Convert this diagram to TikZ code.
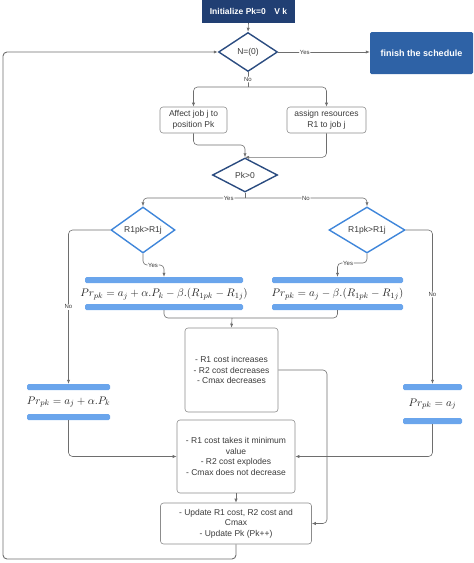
\documentclass[tikz,border=0pt]{standalone}
\usepackage{amsmath,amssymb}
\usepackage{xcolor}
\usepackage{fontspec}
\setmainfont{Liberation Sans}
\usetikzlibrary{shapes,shapes.geometric,arrows,positioning,calc,arrows.meta}

\definecolor{navyfill}{HTML}{213F73}
\definecolor{finishblue}{HTML}{2E62A6}
\definecolor{navyline}{HTML}{2B4C80}
\definecolor{lightline}{HTML}{3F86DA}
\definecolor{barblue}{HTML}{6AA5EC}
\definecolor{linegray}{HTML}{6E6E6E}
\definecolor{boxgray}{HTML}{8C8C8C}
\definecolor{textgray}{HTML}{3A3A3A}

\tikzset{
    flow/.style={draw=linegray, line width=0.6pt, rounded corners=4pt},
    arr/.style={flow, -{Latex[length=4pt, width=3.2pt]}},
    notebox/.style={draw=boxgray, line width=0.6pt, rounded corners=3pt, align=center, text=textgray, font=\fontsize{8.5}{10.5}\selectfont, inner sep=2pt},
    titlebox/.style={fill=navyfill, text=white, font=\bfseries\fontsize{8.5}{10}\selectfont, inner sep=2pt},
    endbox/.style={fill=finishblue, text=white, font=\bfseries\fontsize{9}{11}\selectfont, rounded corners=1.5pt},
    darkdiamond/.style={diamond, draw=navyline, line width=1.4pt, text=textgray, font=\fontsize{8.5}{10}\selectfont, inner sep=0pt},
    lightdiamond/.style={diamond, draw=lightline, line width=1.4pt, text=textgray, font=\fontsize{8.5}{10}\selectfont, inner sep=0pt},
    bar/.style={fill=barblue, rounded corners=1.5pt, minimum height=6pt, inner sep=0pt},
    formula/.style={text=black!85, font=\fontsize{10.75}{12}\selectfont, inner sep=0pt},
    lbl/.style={fill=white, text=textgray, font=\fontsize{6}{7}\selectfont, inner sep=0.8pt}
}

\begin{document}
\begin{tikzpicture}[x=1pt, y=-1pt]
    \useasboundingbox (0,0) rectangle (474,563);

    \node[titlebox, minimum width=93pt, minimum height=23pt] (init) at (248.5,11.5) {Initialize Pk=0\quad V k};
    \node[darkdiamond, minimum width=59pt, minimum height=39pt] (N) at (248,52) {N=(0)};
    \node[endbox, minimum width=103pt, minimum height=42pt] (finish) at (421.5,53) {finish the schedule};

    \node[notebox, minimum width=67pt, minimum height=26pt] (affect) at (193.5,120) {Affect job j to\\position Pk};
    \node[notebox, minimum width=79pt, minimum height=26pt] (assign) at (326.5,120) {assign resources\\R1 to job j};

    \node[darkdiamond, minimum width=65pt, minimum height=34pt] (Pk) at (245,175) {Pk>0};
    \node[lightdiamond, minimum width=64pt, minimum height=46pt] (Rl) at (143,230) {R1pk>R1j};
    \node[lightdiamond, minimum width=76pt, minimum height=46pt] (Rr) at (367,230) {R1pk>R1j};

    \node[bar, minimum width=158pt] (f1top) at (164,280) {};
    \node[formula] (f1) at (164,294) {$Pr_{pk} = a_j + \alpha.P_k - \beta.(R_{1pk} - R_{1j})$};
    \node[bar, minimum width=158pt] (f1bot) at (164,307) {};

    \node[bar, minimum width=131pt] (f2top) at (337.5,280) {};
    \node[formula] (f2) at (337.5,294) {$Pr_{pk} = a_j - \beta.(R_{1pk} - R_{1j})$};
    \node[bar, minimum width=131pt] (f2bot) at (337.5,307) {};

    \node[bar, minimum width=83pt] (f3top) at (68.5,387) {};
    \node[formula, font=\fontsize{11}{12}\selectfont] (f3) at (68.5,402) {$Pr_{pk} = a_j + \alpha.P_k$};
    \node[bar, minimum width=83pt] (f3bot) at (68.5,417) {};

    \node[bar, minimum width=59pt] (f4top) at (432.5,387) {};
    \node[formula, font=\fontsize{11}{12}\selectfont] (f4) at (432.5,404) {$Pr_{pk} = a_j$};
    \node[bar, minimum width=59pt] (f4bot) at (432.5,421) {};

    \node[notebox, minimum width=93pt, minimum height=84pt] (cost1) at (231.5,370) {- R1 cost increases\\- R2 cost decreases\\- Cmax decreases};
    \node[notebox, minimum width=118pt, minimum height=73pt] (cost2) at (236,456.5) {- R1 cost takes it minimum\\value\\- R2 cost explodes\\- Cmax does not decrease};
    \node[notebox, minimum width=151pt, minimum height=41pt] (update) at (236,523.5) {- Update R1 cost, R2 cost and\\Cmax\\- Update Pk (Pk++)};

    \coordinate (split) at (248,87);
    \coordinate (mergeL) at (193.5,145);
    \coordinate (split2) at (245,198);
    \coordinate (ylb) at (143,265);
    \coordinate (yrb) at (367,263);
    \coordinate (join) at (232,318);
    \coordinate (rightrun) at (327,370);
    \coordinate (lowleft) at (3,559);

    \draw[arr] (init.south) -- (N.north);
    \draw[arr] (N.east) -- node[lbl, pos=0.29] {Yes} (finish.west |- N.east);
    \draw[flow] (N.south) -- node[lbl] {No} (split);
    \draw[arr] (split) -| (affect.north);
    \draw[arr] (split) -| (assign.north);
    \draw[arr] (affect.south) -- (mergeL) -| (Pk.north);
    \draw[arr] (assign.south) |- (Pk.north);

    \draw[flow] (Pk.south) -- (split2);
    \draw[arr] (split2) -| node[lbl, pos=0.08] {Yes} (Rl.north);
    \draw[arr] (split2) -| node[lbl, pos=0.25] {No} (Rr.north);

    \draw[arr] (Rl.west) -| node[lbl, pos=0.75] {No} (f3top.north);
    \draw[arr] (Rl.south) -- (ylb) -| node[lbl, pos=0.24] {Yes} (f1top.north);
    \draw[arr] (Rr.south) -- (yrb) -| node[lbl, pos=0.32] {Yes} (f2top.north);
    \draw[arr] (Rr.east) -| node[lbl, pos=0.71] {No} (f4top.north);

    \draw[flow] (f1bot.south) |- (join) -| (f2bot.south);
    \draw[arr] (join) -- (cost1.north);
    \draw[arr] (cost1.east) -- (rightrun) |- (update.east);
    \draw[arr] (f3bot.south) |- (cost2.west);
    \draw[arr] (f4bot.south) |- (cost2.east);
    \draw[arr] (cost2.south) -- (update.north);
    \draw[arr, line width=0.9pt] (update.south) |- (lowleft) |- (N.west);
\end{tikzpicture}
\end{document}
